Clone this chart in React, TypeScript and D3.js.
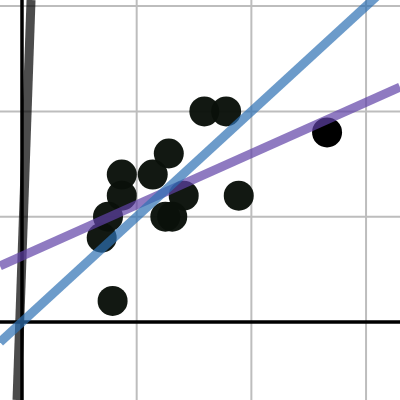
import React, { useEffect, useRef } from 'react';
import * as d3 from 'd3';

// scatter points (x, y)
const pointX = [8.7, 8.7, 11.4, 12.8, 7.5, 6.95, 14.1, 12.5, 13.1, 15.9, 17.8, 18.9, 7.9];
const pointY = [14, 12, 14, 16, 10, 8, 12, 10, 10, 20, 20, 12, 2];
// the lone pure-black point on the right
const outlierX = [26.6];
const outlierY = [18];

// fitted lines as y = intercept + slope * x
const lineNames = ['steep', 'purple', 'blue'];
const lineSlopes = [31.1, 0.487, 1];
const lineIntercepts = [6.1, 6.25, 0];
const lineColors = ['#000000', '#6042a6', '#2d70b3'];

const gridX = [-10, 0, 10, 20, 30];
const gridY = [-10, 0, 10, 20, 30];

const W = 400;
const H = 400;

export default function App() {
  const svgRef = useRef<SVGSVGElement>(null);

  useEffect(() => {
    if (!svgRef.current) return;
    const svg = d3.select(svgRef.current);
    svg.selectAll('*').remove();

    const x = d3.scaleLinear().domain([-1.918, 32.96]).range([0, W]);
    const y = d3.scaleLinear().domain([-7.41, 30.58]).range([H, 0]);

    svg.append('rect').attr('width', W).attr('height', H).attr('fill', '#fff');

    // grid
    svg
      .append('g')
      .selectAll('line')
      .data(gridX.filter((d) => d !== 0))
      .enter()
      .append('line')
      .attr('x1', (d) => x(d))
      .attr('x2', (d) => x(d))
      .attr('y1', 0)
      .attr('y2', H)
      .attr('stroke', '#bdbdbd')
      .attr('stroke-width', 2);

    svg
      .append('g')
      .selectAll('line')
      .data(gridY.filter((d) => d !== 0))
      .enter()
      .append('line')
      .attr('x1', 0)
      .attr('x2', W)
      .attr('y1', (d) => y(d))
      .attr('y2', (d) => y(d))
      .attr('stroke', '#bdbdbd')
      .attr('stroke-width', 2);

    // axes
    svg
      .append('line')
      .attr('x1', x(0))
      .attr('x2', x(0))
      .attr('y1', 0)
      .attr('y2', H)
      .attr('stroke', '#000')
      .attr('stroke-width', 3.5);
    svg
      .append('line')
      .attr('x1', 0)
      .attr('x2', W)
      .attr('y1', y(0))
      .attr('y2', y(0))
      .attr('stroke', '#000')
      .attr('stroke-width', 3.5);

    // points
    const pts = pointX.map((px, i) => ({ x: px, y: pointY[i] }));
    svg
      .append('g')
      .selectAll('circle')
      .data(pts)
      .enter()
      .append('circle')
      .attr('cx', (d) => x(d.x))
      .attr('cy', (d) => y(d.y))
      .attr('r', 15)
      .attr('fill', '#0a110a')
      .attr('fill-opacity', 0.97);

    svg
      .append('g')
      .selectAll('circle')
      .data(outlierX.map((px, i) => ({ x: px, y: outlierY[i] })))
      .enter()
      .append('circle')
      .attr('cx', (d) => x(d.x))
      .attr('cy', (d) => y(d.y))
      .attr('r', 15)
      .attr('fill', '#000');

    // regression lines
    const [y0, y1] = y.domain();
    const [x0, x1] = x.domain();
    lineNames.forEach((name, i) => {
      const m = lineSlopes[i];
      const b = lineIntercepts[i];
      let ends: [number, number][];
      if (Math.abs(m) > 5) {
        ends = [
          [(y0 - b) / m, y0],
          [(y1 - b) / m, y1],
        ];
      } else {
        ends = [
          [x0, b + m * x0],
          [x1, b + m * x1],
        ];
      }
      const line = d3
        .line<[number, number]>()
        .x((d) => x(d[0]))
        .y((d) => y(d[1]));
      svg
        .append('path')
        .attr('d', line(ends))
        .attr('fill', 'none')
        .attr('stroke', lineColors[i])
        .attr('stroke-opacity', 0.7)
        .attr('stroke-width', 9)
        .attr('aria-label', name);
    });
  }, []);

  return (
    <svg
      ref={svgRef}
      width={W}
      height={H}
      style={{ position: 'absolute', left: 0, top: 0 }}
    />
  );
}
